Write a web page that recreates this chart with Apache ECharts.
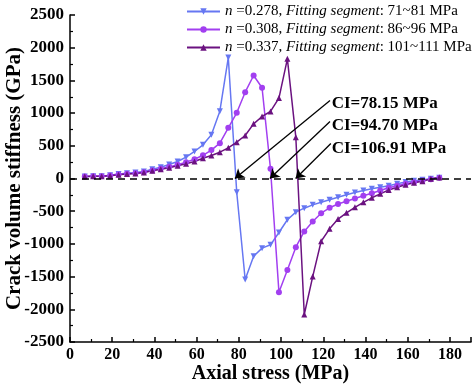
<!DOCTYPE html>
<html>
<head>
<meta charset="utf-8">
<script src="https://cdn.jsdelivr.net/npm/echarts@6/dist/echarts.min.js"></script>
<style>html,body{margin:0;padding:0;background:#fff;}#c{width:474px;height:390px;}</style>
</head>
<body>
<div id="c"></div>
<script>
// Axial stress (MPa) shared by all three series
const stress = [7,11,15,19,23,27,31,35,39,43,47,51,55,59,63,67,71,75,79,83,87,91,95,99,103,107,111,115,119,123,127,131,135,139,143,147,151,155,159,163,167,171,175];
// Crack volume stiffness (GPa)
const seriesA = [30,35,35,50,70,80,92,107,142,173,214,260,326,413,515,668,1030,1850,-210,-1545,-1188,-1065,-1014,-826,-631,-515,-454,-403,-362,-326,-286,-249,-214,-183,-158,-133,-112,-80,-55,-35,-18,-3,10];
const seriesB = [30,35,35,45,62,72,82,97,122,148,178,210,250,295,355,435,540,775,1004,1320,1575,1387,148,-1738,-1400,-1050,-810,-657,-530,-448,-390,-347,-305,-265,-225,-183,-142,-112,-81,-57,-31,-10,10];
const seriesC = [30,35,35,42,58,68,78,92,118,142,165,195,225,260,310,352,402,469,555,657,836,948,1025,1230,1830,632,-2080,-1500,-960,-770,-620,-525,-440,-365,-295,-235,-175,-133,-96,-66,-41,-5,15];
const nValues = ['0.278','0.308','0.337'];
const segments = ['71~81','86~96','101~111'];
const ciValues = [78.15, 94.70, 106.91];
const ciLabels = ['CI=78.15 MPa','CI=94.70 MPa','CI=106.91 MPa'];
const ciTextAnchor = [[124,1150],[124,810],[124,455]];
const ciArrowStart = [[123.2,1193],[123.2,872],[123.6,535]];
const xTicks = {min:0,max:190,interval:20};
const yTicks = {min:-2500,max:2500,interval:500};

const FF = 'Liberation Serif';
const colors = ['#6677F2','#A23FF0','#6B1280'];
const names = nValues.map(v => 'n =' + v);
function pairs(vals){ return stress.map((x,i)=>[x, vals[i]]); }

const chart = echarts.init(document.getElementById('c'), null, {renderer:'canvas'});
const option = {
  animation:false,
  backgroundColor:'#fff',
  grid:{left:70, top:15, right:3, bottom:48, containLabel:false, outerBoundsMode:'none'},
  legend:{
    orient:'vertical', left:181, top:-1, itemWidth:33, itemHeight:8, itemGap:3,
    data:names,
    textStyle:{fontFamily:FF, fontSize:15, color:'#000',
      rich:{i:{fontFamily:FF, fontSize:15, fontStyle:'italic', color:'#000'}}},
    formatter:function(name){
      const i = names.indexOf(name);
      return '{i|n} =' + nValues[i] + ', {i|Fitting segment}: ' + segments[i] + ' MPa';
    }
  },
  xAxis:{
    type:'value', min:xTicks.min, max:xTicks.max, interval:xTicks.interval,
    name:'Axial stress (MPa)', nameLocation:'middle', nameGap:22, nameMoveOverlap:false,
    nameTextStyle:{fontFamily:FF, fontSize:20, fontWeight:'bold', color:'#000'},
    axisLine:{show:true, onZero:false, lineStyle:{color:'#000', width:1.5}},
    axisTick:{show:true, inside:true, length:5, lineStyle:{color:'#000', width:1.5}},
    minorTick:{show:true, splitNumber:2, length:3, lineStyle:{color:'#000', width:1.2}},
    axisLabel:{fontFamily:FF, fontSize:16, fontWeight:'bold', color:'#000', margin:5, showMaxLabel:false,
      formatter:v=>String(v)},
    splitLine:{show:false}
  },
  yAxis:{
    type:'value', min:yTicks.min, max:yTicks.max, interval:yTicks.interval,
    name:'Crack volume stiffness (GPa)', nameLocation:'middle', nameGap:45, nameMoveOverlap:false,
    nameTextStyle:{fontFamily:FF, fontSize:21, fontWeight:'bold', color:'#000'},
    axisLine:{show:true, onZero:false, lineStyle:{color:'#000', width:1.5}},
    axisTick:{show:true, inside:true, length:5, lineStyle:{color:'#000', width:1.5}},
    minorTick:{show:true, splitNumber:2, length:3, lineStyle:{color:'#000', width:1.2}},
    axisLabel:{fontFamily:FF, fontSize:17, fontWeight:'bold', color:'#000', margin:6,
      formatter:v=>String(v)},
    splitLine:{show:false}
  },
  series:[
    {name:names[0], type:'line', data:pairs(seriesA), color:colors[0],
     symbol:'triangle', symbolRotate:180, symbolSize:6, lineStyle:{width:1.5},
     markLine:{silent:true, symbol:'none', label:{show:false},
       lineStyle:{type:[7,5], color:'#000', width:1.5}, data:[{yAxis:0}]}},
    {name:names[1], type:'line', data:pairs(seriesB), color:colors[1],
     symbol:'circle', symbolSize:6, lineStyle:{width:1.5}},
    {name:names[2], type:'line', data:pairs(seriesC), color:colors[2],
     symbol:'triangle', symbolSize:6, lineStyle:{width:1.5},
     markLine:{silent:true, symbol:['none','arrow'], symbolSize:9, label:{show:false},
       itemStyle:{color:'#000'},
       lineStyle:{type:'solid', color:'#000', width:1.3},
       data: ciValues.map((ci,i)=>[{coord:ciArrowStart[i]},{coord:[ci,0]}])}}
  ]
};
chart.setOption(option);
const texts = ciLabels.map((t,i)=>{
  const p = chart.convertToPixel({gridIndex:0}, ciTextAnchor[i]);
  return {type:'text', x:p[0], y:p[1], style:{text:t, fontFamily:FF, fontSize:17, fontWeight:'bold', fill:'#000', textAlign:'left', textVerticalAlign:'middle'}, z:100};
});
chart.setOption({graphic:texts});
</script>
</body>
</html>
